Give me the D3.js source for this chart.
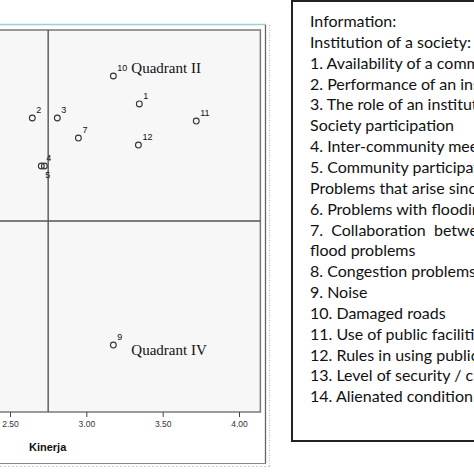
<!DOCTYPE html>
<html><head><meta charset="utf-8">
<script src="https://cdn.jsdelivr.net/npm/d3@7"></script>
<style>html,body{margin:0;padding:0;background:#fff;overflow:hidden}</style>
</head><body>
<script>
// ---- data ----
const pointIds   = ["1","2","3","4","5","7","9","10","11","12"];
const kinerja    = [3.347, 2.646, 2.810, 2.705, 2.725, 2.948, 3.177, 3.177, 3.720, 3.341];
const kepentingan= [4.016, 3.924, 3.924, 3.610, 3.610, 3.793, 2.438, 4.199, 3.904, 3.747];
const xTicks     = [2.5, 3.0, 3.5, 4.0];
const xTickLabels= ["2.50","3.00","3.50","4.00"];
const refX = 2.75, refY = 3.25;
const quadrantLabels = ["Quadrant II", "Quadrant IV"];
const quadrantX = [3.295, 3.295];
const quadrantY = [4.219, 2.373];
const xTitle = "Kinerja";
const legendLines = [
  "Information:",
  "Institution of a society:",
  "1. Availability of a community institution",
  "2. Performance of an institution",
  "3. The role of an institution",
  "Society participation",
  "4. Inter-community meetings",
  "5. Community participation",
  "Problems that arise since",
  "6. Problems with flooding",
  "7.  Collaboration  between",
  "flood problems",
  "8. Congestion problems",
  "9. Noise",
  "10. Damaged roads",
  "11. Use of public facilities",
  "12. Rules in using public facilities",
  "13. Level of security / crime",
  "14. Alienated condition"
];

// ---- chart ----
const W = 474, H = 474;
const svg = d3.select("body").append("svg").attr("width", W).attr("height", H)
  .style("display","block");
svg.append("rect").attr("width",W).attr("height",H).attr("fill","#fff");

const x = d3.scaleLinear().domain([2.5, 4.0]).range([10, 239]);
const y = d3.scaleLinear().domain([2.0, 4.5]).range([412, 30]);
const xMin = 2.1, xMax = 4.14;

// outer panel frame
svg.append("line").attr("x1",0).attr("x2",266).attr("y1",24.5).attr("y2",24.5)
  .attr("stroke","#a9cbd0").attr("stroke-width",1.5);
svg.append("line").attr("x1",265.5).attr("x2",265.5).attr("y1",25).attr("y2",463.5)
  .attr("stroke","#666").attr("stroke-width",1.3);
svg.append("line").attr("x1",0).attr("x2",266).attr("y1",463.5).attr("y2",463.5)
  .attr("stroke","#888").attr("stroke-width",1.2);
svg.append("line").attr("x1",269.5).attr("x2",269.5).attr("y1",25).attr("y2",466)
  .attr("stroke","#bbb").attr("stroke-width",1.2).attr("stroke-dasharray","1,1.5");
svg.append("line").attr("x1",0).attr("x2",270).attr("y1",466.5).attr("y2",466.5)
  .attr("stroke","#ccc").attr("stroke-width",1).attr("stroke-dasharray","2,2");

// plot area
svg.append("rect")
  .attr("x", x(xMin)).attr("y", y(4.5))
  .attr("width", x(xMax) - x(xMin)).attr("height", y(2.0) - y(4.5))
  .attr("fill","#f7f7f7").attr("stroke","#7a7a7a").attr("stroke-width",1.5);

// reference lines
svg.append("line").attr("x1", x(refX)).attr("x2", x(refX)).attr("y1", y(4.5)).attr("y2", y(2.0))
  .attr("stroke","#555").attr("stroke-width",1.4);
svg.append("line").attr("x1", x(xMin)).attr("x2", x(xMax)).attr("y1", y(refY)).attr("y2", y(refY))
  .attr("stroke","#555").attr("stroke-width",1.4);

// x axis
const xAxis = d3.axisBottom(x).tickValues(xTicks)
  .tickFormat((d,i)=>xTickLabels[i]).tickSize(5).tickPadding(4);
const gx = svg.append("g").attr("transform",`translate(0,${y(2.0)})`).call(xAxis);
gx.select(".domain").remove();
gx.selectAll(".tick line").attr("stroke","#444").attr("stroke-width",1);
gx.selectAll(".tick text").attr("font-family","Arial, 'Liberation Sans', sans-serif")
  .attr("font-size",8.5).attr("fill","#333");
svg.append("text").attr("x",29).attr("y",451).text(xTitle)
  .attr("font-family","Arial, 'Liberation Sans', sans-serif").attr("font-weight","bold")
  .attr("font-size",11).attr("fill","#111");

// points
const pts = pointIds.map((id,i)=>({id, xv:kinerja[i], yv:kepentingan[i]}));
svg.append("g").selectAll("circle").data(pts).join("circle")
  .attr("cx", d=>x(d.xv)).attr("cy", d=>y(d.yv)).attr("r",2.9)
  .attr("fill","none").attr("stroke","#333").attr("stroke-width",1.1);
svg.append("g").selectAll("text").data(pts).join("text")
  .attr("x", d=> d.id==="5" ? x(d.xv)+1 : (d.id==="4" ? x(d.xv)+5 : x(d.xv)+4))
  .attr("y", d=> d.id==="5" ? y(d.yv)+12 : y(d.yv)-5)
  .text(d=>d.id)
  .attr("font-family","Arial, 'Liberation Sans', sans-serif").attr("font-size",9).attr("fill","#111");

// quadrant labels
svg.append("g").selectAll("text").data(quadrantLabels).join("text")
  .attr("x",(d,i)=>x(quadrantX[i])).attr("y",(d,i)=>y(quadrantY[i]))
  .text(d=>d)
  .attr("font-family","'Liberation Serif', 'Times New Roman', serif").attr("font-size",15).attr("fill","#111");

// legend box
svg.append("rect").attr("x",292).attr("y",1).attr("width",200).attr("height",440)
  .attr("fill","#fff").attr("stroke","#222").attr("stroke-width",2);
svg.append("g").selectAll("text").data(legendLines).join("text")
  .attr("x",310).attr("y",(d,i)=>27 + i*20.85)
  .attr("xml:space","preserve").style("white-space","pre")
  .text(d=>d)
  .attr("font-family","Lato, 'Open Sans', sans-serif").attr("font-size",16).attr("fill","#111");
</script>
</body></html>
